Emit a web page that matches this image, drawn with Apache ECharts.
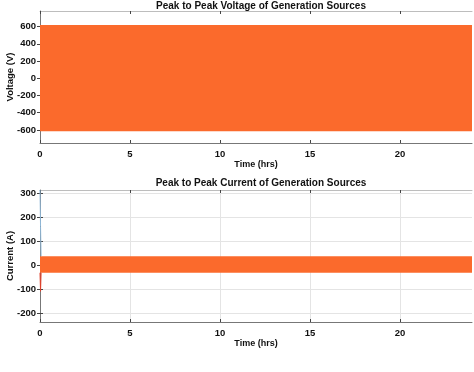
<!DOCTYPE html>
<html><head><meta charset="utf-8">
<script src="https://cdn.jsdelivr.net/npm/echarts@6/dist/echarts.min.js"></script>
<style>html,body{margin:0;padding:0;background:#fff}#c{width:474px;height:372px}</style>
</head><body><div id="c"></div>
<script>
// Envelope of the oscillating signals
var timeHrs = [0, 6, 12, 18, 24];
var voltageUpper = [620, 620, 620, 620, 620];
var voltageLower = [-616, -616, -616, -616, -616];
var currentUpper = [36, 36, 36, 36, 36];
var currentLower = [-33, -33, -33, -33, -33];
// start-up transient near t = 0
var transientTime = [0, 0.03, 0.06];
var transientBlue = [312, 160, 36];
var transientRed = [-33, -110, -33];
var xTicks = [0, 5, 10, 15, 20];
var voltTicks = [-600, -400, -200, 0, 200, 400, 600];
var currTicks = [-200, -100, 0, 100, 200, 300];

var orange = '#fb6a2c';
var font = 'Liberation Sans, Arial, sans-serif';
function pairs(t, v){ return t.map(function(x,i){return [x, v[i]];}); }

function xAxes(gi){
  return [{
    type:'value', gridIndex:gi, min:0, max:24, position:'bottom',
    name:'Time (hrs)', nameLocation:'middle', nameGap:16,
    nameTextStyle:{fontFamily:font, fontWeight:'bold', fontSize:9, color:'#111'},
    axisLine:{show:true, onZero:false, lineStyle:{color:'#777', width:1}},
    axisTick:{show:true, inside:true, length:3, customValues:xTicks, lineStyle:{color:'#444'}},
    axisLabel:{customValues:xTicks, margin:6, fontFamily:font, fontWeight:'bold', fontSize:9.5, color:'#111'},
    splitLine:{show:gi===1, lineStyle:{color:'#e4e4e4', width:1}}
  },{
    type:'value', gridIndex:gi, min:0, max:24, position:'top',
    axisLine:{show:true, onZero:false, lineStyle:{color:'#bdbdbd', width:1}},
    axisTick:{show:true, inside:true, length:3, customValues:xTicks, lineStyle:{color:'#444'}},
    axisLabel:{show:false}, splitLine:{show:false}
  }];
}
function yAxes(gi, mn, mx, ticks, name){
  return [{
    type:'value', gridIndex:gi, min:mn, max:mx, position:'left',
    name:name, nameLocation:'middle', nameGap:25, nameRotate:90, nameMoveOverlap:false,
    nameTextStyle:{fontFamily:font, fontWeight:'bold', fontSize:9.5, color:'#111'},
    axisLine:{show:true, onZero:false, lineStyle:{color:'#777', width:1}},
    axisTick:{show:true, inside:true, length:3, customValues:ticks, lineStyle:{color:'#444'}},
    axisLabel:{customValues:ticks, margin:4, fontFamily:font, fontWeight:'bold', fontSize:9.5, color:'#111'},
    splitLine:{show:gi===1, lineStyle:{color:'#e4e4e4', width:1}}
  },{
    type:'value', gridIndex:gi, min:mn, max:mx, position:'right',
    axisLine:{show:false},
    axisTick:{show:true, inside:true, length:3, customValues:ticks, lineStyle:{color:'#444'}},
    axisLabel:{show:false}, splitLine:{show:false}
  }];
}
// Filled band between the upper and lower envelope, drawn through the axis scales
function band(xi, yi, up, lo){
  return {
    type:'custom', xAxisIndex:xi, yAxisIndex:yi, silent:true, z:10,
    data:[[0]],
    renderItem:function(params, api){
      var pts = [];
      for (var i = 0; i < timeHrs.length; i++) pts.push(api.coord([timeHrs[i], up[i]]));
      for (var j = timeHrs.length - 1; j >= 0; j--) pts.push(api.coord([timeHrs[j], lo[j]]));
      return {type:'polygon', shape:{points:pts}, style:{fill:orange, stroke:null}};
    }
  };
}

var chart = echarts.init(document.getElementById('c'), null, {renderer:'canvas'});
chart.setOption({
  animation:false,
  backgroundColor:'#fff',
  title:[
    {text:'Peak to Peak Voltage of Generation Sources', left:256, textAlign:'center', top:-4,
     textStyle:{fontFamily:font, fontWeight:'bold', fontSize:10, color:'#111'}},
    {text:'Peak to Peak Current of Generation Sources', left:256, textAlign:'center', top:173,
     textStyle:{fontFamily:font, fontWeight:'bold', fontSize:10, color:'#111'}}
  ],
  grid:[
    {left:40, right:2, top:11, height:132, containLabel:false, outerBoundsMode:'none'},
    {left:40, right:2, top:190, height:132, containLabel:false, outerBoundsMode:'none'}
  ],
  xAxis: xAxes(0).concat(xAxes(1)),
  yAxis: yAxes(0, -752, 782, voltTicks, 'Voltage (V)').concat(yAxes(1, -238, 312, currTicks, 'Current (A)')),
  series: [band(0,0,voltageUpper,voltageLower), band(2,2,currentUpper,currentLower),
      {type:'line', xAxisIndex:2, yAxisIndex:2, symbol:'none', data:pairs(transientTime, transientBlue),
       lineStyle:{color:'#8fb8d8', width:1}, z:11},
      {type:'line', xAxisIndex:2, yAxisIndex:2, symbol:'none', data:pairs(transientTime, transientRed),
       lineStyle:{color:'#e0402a', width:1}, z:11}
  ]
});
</script></body></html>
